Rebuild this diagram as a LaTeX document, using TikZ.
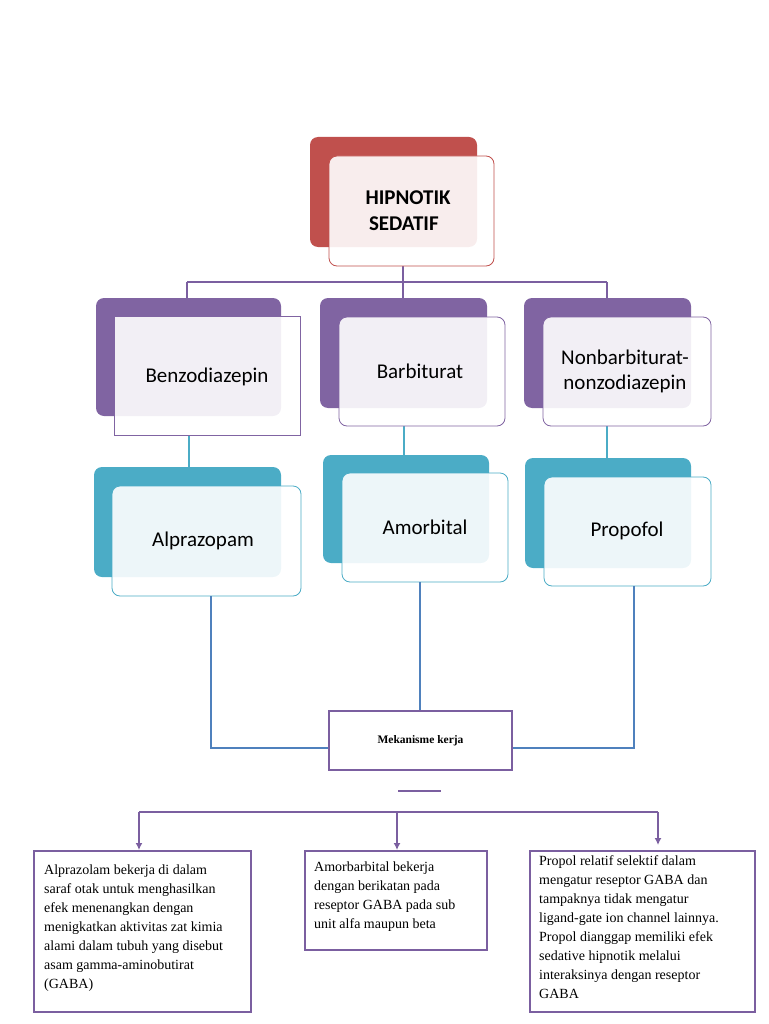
\documentclass[tikz,border=0pt]{standalone}
\usepackage{fontspec}
\usetikzlibrary{arrows.meta}
\setmainfont{Liberation Serif}
\newfontfamily\cb{Carlito}
\begin{document}
\begin{tikzpicture}[x=1pt,y=-1pt,
 back/.style={rounded corners=8pt},
 front/.style={rounded corners=8pt,line width=0.8pt},
 lbl/.style={font=\cb\fontsize{21}{25}\selectfont,align=center},
 txt/.style={font=\fontsize{14}{19}\selectfont,align=left,anchor=north west,inner sep=0pt}]
\definecolor{red1}{HTML}{C0504D}\definecolor{pur}{HTML}{8064A2}\definecolor{teal1}{HTML}{4BACC6}
\definecolor{pl1}{HTML}{7B5FA0}\definecolor{bl1}{HTML}{4F81BD}
\useasboundingbox (0,0) rectangle (768,1024);
% connectors top
\draw[draw=pl1,line width=1.6pt] (403,266) -- (403,282) (187,282) -- (607,282) (187,282)--(187,298) (403,282)--(403,298) (607,282)--(607,298);
\draw[draw=teal1,line width=1.4pt] (189,435)--(189,467) (404,426)--(404,455) (607,426)--(607,458);
% top
\fill[red1,back] (310,137) rectangle (477,247);
\draw[front,draw=red1,fill=white,fill opacity=0.9] (329,156) rectangle (494,266);
\node[font=\cb\bfseries\fontsize{21}{26}\selectfont,align=left,anchor=west] (top) at (362,211) {HIPNOTIK\\\,SEDATIF};
% level 2
\fill[pur,back] (96,298) rectangle (281,416);
\draw[draw=pur,line width=0.8pt,fill=white,fill opacity=0.9] (114,316) rectangle (300,435);
\node[lbl] (b) at (207,377) {Benzodiazepin};
\fill[pur,back] (320,298) rectangle (487,408);
\draw[front,draw=pur,fill=white,fill opacity=0.9] (339,317) rectangle (505,426);
\node[lbl] (ba) at (420,371) {Barbiturat};
\fill[pur,back] (524,298) rectangle (691,408);
\draw[front,draw=pur,fill=white,fill opacity=0.9] (543,317) rectangle (711,426);
\node[lbl] (nb) at (625,371) {Nonbarbiturat-\\nonzodiazepin};
% level 3
\fill[teal1,back] (94,467) rectangle (281,577);
\draw[front,draw=teal1,fill=white,fill opacity=0.9] (112,486) rectangle (301,596);
\node[lbl] (a) at (203,541) {Alprazopam};
\fill[teal1,back] (323,455) rectangle (489,563);
\draw[front,draw=teal1,fill=white,fill opacity=0.9] (342,473) rectangle (508,582);
\node[lbl] (am) at (425,527) {Amorbital};
\fill[teal1,back] (525,458) rectangle (691,568);
\draw[front,draw=teal1,fill=white,fill opacity=0.9] (544,477) rectangle (711,586);
\node[lbl] (p) at (627,531) {Propofol};
% blue lines
\draw[draw=bl1,line width=1.6pt] (211,596)--(211,748)--(329,748) (420,582)--(420,711) (634,586)--(634,748)--(512,748);
\node[draw=pl1,line width=1.8pt,minimum width=183pt,minimum height=59pt,font=\bfseries\fontsize{11.5}{13}\selectfont] (m) at (420.5,740.5) {Mekanisme kerja};
\draw[draw=pl1,line width=2.5pt] (398,791)--(441,791);
\draw[draw=pl1,line width=1.8pt] (139,812)--(658,812);
\draw[draw=pl1,line width=1.8pt,-{Latex[length=7pt,width=7pt]}] (139,812)--(139,850);
\draw[draw=pl1,line width=1.8pt,-{Latex[length=7pt,width=7pt]}] (397,812)--(397,850);
\draw[draw=pl1,line width=1.8pt,-{Latex[length=7pt,width=7pt]}] (658,812)--(658,845);
\draw[draw=pl1,line width=1.6pt] (34,851) rectangle (251,1012);
\draw[draw=pl1,line width=1.6pt] (305,851) rectangle (487,950);
\draw[draw=pl1,line width=1.6pt] (530,851) rectangle (755,1012);
\node[txt] (t1) at (44,865) {Alprazolam bekerja di dalam\\saraf otak untuk menghasilkan\\efek menenangkan dengan\\menigkatkan aktivitas zat kimia\\alami dalam tubuh yang disebut\\asam gamma-aminobutirat\\(GABA)};
\node[txt] (t2) at (314,862) {Amorbarbital bekerja\\dengan berikatan pada\\reseptor GABA pada sub\\unit alfa maupun beta};
\node[txt] (t3) at (539,855) {Propol relatif selektif dalam\\mengatur reseptor GABA dan\\tampaknya tidak mengatur\\ligand-gate ion channel lainnya.\\Propol dianggap memiliki efek\\sedative hipnotik melalui\\interaksinya dengan reseptor\\GABA};
\end{tikzpicture}
\end{document}
